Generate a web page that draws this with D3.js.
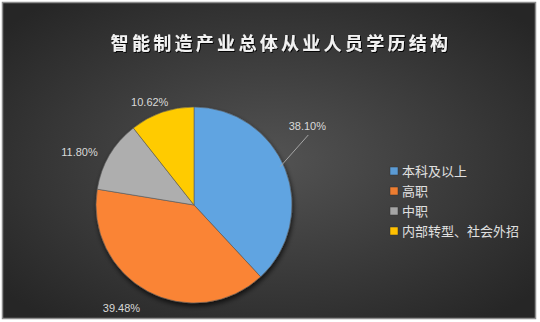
<!DOCTYPE html>
<html>
<head>
<meta charset="utf-8">
<script src="https://cdn.jsdelivr.net/npm/d3@7"></script>
<style>
  body { margin: 0; background: #fff; }
  svg { display: block; }
</style>
</head>
<body>
<script>
// education structure pie

const categories = ['本科及以上', '高职', '中职', '内部转型、社会外招'];
const shares = [38.10, 39.48, 11.80, 10.62];
const labels = ['38.10%', '39.48%', '11.80%', '10.62%'];
const colors = ['#5b9bd5', '#ed7d31', '#a5a5a5', '#ffc000'];
const darker = ['#4388cc', '#e36c12', '#999999', '#f0b400'];

const w = 540, h = 322;
const cx = 194, cy = 205, r = 98;

const svg = d3.select('body').append('svg').attr('width', w).attr('height', h);
const defs = svg.append('defs');

// background
const bg = defs.append('radialGradient').attr('id', 'bg')
    .attr('cx', '50%').attr('cy', '50%').attr('r', '65%');
bg.append('stop').attr('offset', '0%').attr('stop-color', '#535353');
bg.append('stop').attr('offset', '100%').attr('stop-color', '#262626');

const sh = defs.append('filter').attr('id', 'sh')
    .attr('x', '-20%').attr('y', '-20%').attr('width', '140%').attr('height', '140%');
sh.append('feDropShadow').attr('dx', 1).attr('dy', 3).attr('stdDeviation', 2.5)
    .attr('flood-color', '#000').attr('flood-opacity', 0.7);

const tsh = defs.append('filter').attr('id', 'tsh');
tsh.append('feDropShadow').attr('dx', 1).attr('dy', 1).attr('stdDeviation', 0.6)
    .attr('flood-color', '#000').attr('flood-opacity', 0.9);

colors.forEach((c, i) => {
    let g = defs.append('linearGradient').attr('id', 'g' + i)
        .attr('gradientUnits', 'userSpaceOnUse')
        .attr('x1', 0).attr('y1', cy - r).attr('x2', 0).attr('y2', cy + r);
    g.append('stop').attr('offset', '0%').attr('stop-color', d3.color(c).brighter(0.15));
    g.append('stop').attr('offset', '100%').attr('stop-color', darker[i]);
});

svg.append('rect')
    .attr('x', 2.5).attr('y', 2.5).attr('width', 533).attr('height', 316)
    .attr('fill', 'url(#bg)').attr('stroke', '#8c8c8c').attr('stroke-width', 1.5);

// title
svg.append('text')
    .attr('x', 281).attr('y', 50)
    .attr('text-anchor', 'middle')
    .attr('font-family', '"Noto Sans CJK SC", sans-serif')
    .attr('font-weight', 'bold')
    .attr('font-size', '18px')
    .attr('letter-spacing', '3.3px')
    .attr('fill', '#f2f2f2')
    .attr('filter', 'url(#tsh)')
    .text('智能制造产业总体从业人员学历结构');

// pie
const pie = d3.pie().sort(null).value(d => d);
const arcs = pie(shares);
const arc = d3.arc().innerRadius(0).outerRadius(r);

const g = svg.append('g').attr('transform', `translate(${cx},${cy})`);

g.append('g').attr('filter', 'url(#sh)')
    .selectAll('path')
    .data(arcs)
    .enter()
    .append('path')
    .attr('d', arc)
    .attr('fill', (d, i) => `url(#g${i})`)
    .attr('stroke', '#5a5a5a')
    .attr('stroke-width', 0.6);

// data labels
const labelArc = d3.arc().innerRadius(126).outerRadius(126);
const nudge = [[-4, -33], [-13, -8], [-6, 11], [-3, 16]];

const lblPos = arcs.map((d, i) => {
    let p = labelArc.centroid(d);
    return [p[0] + nudge[i][0], p[1] + nudge[i][1]];
});

// leader line for the moved label
const edge = d3.arc().innerRadius(r - 1).outerRadius(r - 1).centroid(arcs[0]);
g.append('line')
    .attr('x1', lblPos[0][0] + 1).attr('y1', lblPos[0][1] + 9)
    .attr('x2', edge[0] - 4).attr('y2', edge[1] - 3)
    .attr('stroke', '#a6a6a6').attr('stroke-width', 1);

g.selectAll('text.lbl')
    .data(arcs)
    .enter()
    .append('text')
    .attr('class', 'lbl')
    .attr('x', (d, i) => lblPos[i][0])
    .attr('y', (d, i) => lblPos[i][1])
    .attr('dy', '0.35em')
    .attr('text-anchor', 'middle')
    .attr('font-family', '"Liberation Sans", sans-serif')
    .attr('font-size', '11px')
    .attr('fill', '#d9d9d9')
    .text((d, i) => labels[i]);

// legend
const legend = svg.append('g').attr('transform', 'translate(390,171)');
const rows = legend.selectAll('g')
    .data(categories)
    .enter()
    .append('g')
    .attr('transform', (d, i) => `translate(0,${i * 20})`);

rows.append('rect')
    .attr('x', 0).attr('y', -4).attr('width', 8).attr('height', 8)
    .attr('fill', (d, i) => colors[i])
    .attr('stroke', '#333').attr('stroke-width', 0.5);

rows.append('text')
    .attr('x', 12).attr('y', 0).attr('dy', '0.36em')
    .attr('font-family', '"Noto Sans CJK SC", sans-serif')
    .attr('font-size', '13px')
    .attr('fill', '#e0e0e0')
    .text(d => d);
</script>
</body>
</html>
